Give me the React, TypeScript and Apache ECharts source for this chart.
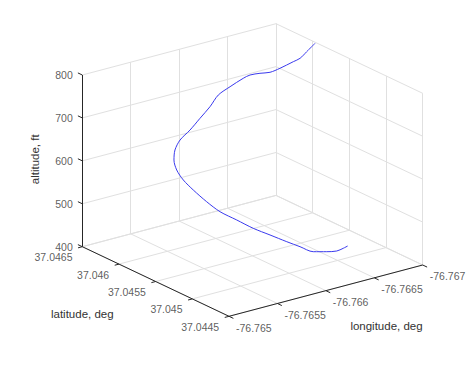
import { useEffect, useRef } from "react";
import * as echarts from "echarts";

// ---- data (flight track) ----
const latitude = [
  37.045177, 37.045117, 37.045059, 37.045016, 37.044963, 37.045041, 37.045079, 37.045166,
  37.045213, 37.045328, 37.045404, 37.045535, 37.045697, 37.045812, 37.04591, 37.046028,
  37.046129, 37.046209, 37.046226, 37.046274, 37.046321, 37.046377, 37.046354, 37.046326,
  37.046314, 37.046218, 37.046108, 37.046054, 37.045992, 37.045966, 37.045976, 37.045948,
];
const longitude = [
  -76.766738, -76.766647, -76.766536, -76.7664, -76.766221, -76.766143, -76.766035, -76.765928,
  -76.76579, -76.765707, -76.765592, -76.765553, -76.765538, -76.765522, -76.765528, -76.765589,
  -76.765676, -76.765789, -76.765905, -76.766044, -76.766183, -76.766311, -76.766415, -76.76653,
  -76.766591, -76.766621, -76.766641, -76.766703, -76.766794, -76.766844, -76.76692, -76.766985,
];
const altitude = [
  405, 410, 415, 425, 440, 450, 465, 480, 500, 515, 535, 550, 565, 580, 595, 605,
  615, 625, 640, 655, 670, 685, 700, 715, 720, 730, 740, 750, 765, 772, 782, 800,
];

// ---- ticks ----
const latTicks = [37.0445, 37.045, 37.0455, 37.046, 37.0465];
const latTickLabels = ["37.0445", "37.045", "37.0455", "37.046", "37.0465"];
const lonTicks = [-76.767, -76.7665, -76.766, -76.7655, -76.765];
const lonTickLabels = ["-76.767", "-76.7665", "-76.766", "-76.7655", "-76.765"];
const altTicks = [400, 500, 600, 700, 800];
const altTickLabels = ["400", "500", "600", "700", "800"];

const LAT_MIN = 37.0445, LAT_MAX = 37.0465;
const LON_MIN = -76.767, LON_MAX = -76.765;
const ALT_MIN = 400, ALT_MAX = 800;

// ---- view layout (3D box projection, pixels) ----
const ORIGIN = [82.3, 246.7];
const LAT_VEC = [146.7, 69.6];
const LON_VEC = [193.7, -51.3];
const ALT_VEC = [0, -171.7];

function project(lat: number, lon: number, alt: number): number[] {
  const fa = (LAT_MAX - lat) / (LAT_MAX - LAT_MIN);
  const fu = (LON_MAX - lon) / (LON_MAX - LON_MIN);
  const fh = (alt - ALT_MIN) / (ALT_MAX - ALT_MIN);
  return [
    ORIGIN[0] + fa * LAT_VEC[0] + fu * LON_VEC[0] + fh * ALT_VEC[0],
    ORIGIN[1] + fa * LAT_VEC[1] + fu * LON_VEC[1] + fh * ALT_VEC[1],
  ];
}

const FONT = "'Liberation Sans', Arial, Helvetica, sans-serif";
const TEXT = "#333333";
const AXIS = "#262626";
const GRID = "#e0e0e0";

export default function App() {
  const ref = useRef<HTMLDivElement>(null);
  useEffect(() => {
    if (!ref.current) return;
    const chart = echarts.init(ref.current, undefined, { renderer: "svg" });

    const seg = (a: number[], b: number[]) => ({ coords: [a, b] });
    const gridSegs: any[] = [];
    // floor
    latTicks.forEach((la) => gridSegs.push(seg(project(la, LON_MAX, ALT_MIN), project(la, LON_MIN, ALT_MIN))));
    lonTicks.forEach((lo) => gridSegs.push(seg(project(LAT_MIN, lo, ALT_MIN), project(LAT_MAX, lo, ALT_MIN))));
    // left wall (lat = max)
    lonTicks.forEach((lo) => gridSegs.push(seg(project(LAT_MAX, lo, ALT_MIN), project(LAT_MAX, lo, ALT_MAX))));
    altTicks.forEach((al) => gridSegs.push(seg(project(LAT_MAX, LON_MAX, al), project(LAT_MAX, LON_MIN, al))));
    // right wall (lon = min)
    latTicks.forEach((la) => gridSegs.push(seg(project(la, LON_MIN, ALT_MIN), project(la, LON_MIN, ALT_MAX))));
    altTicks.forEach((al) => gridSegs.push(seg(project(LAT_MIN, LON_MIN, al), project(LAT_MAX, LON_MIN, al))));

    const axisSegs: any[] = [
      seg(project(LAT_MAX, LON_MAX, ALT_MIN), project(LAT_MAX, LON_MAX, ALT_MAX)),
      seg(project(LAT_MAX, LON_MAX, ALT_MIN), project(LAT_MIN, LON_MAX, ALT_MIN)),
      seg(project(LAT_MIN, LON_MAX, ALT_MIN), project(LAT_MIN, LON_MIN, ALT_MIN)),
    ];
    const dLon = (LON_MAX - LON_MIN) * 0.022;
    const dLat = (LAT_MAX - LAT_MIN) * 0.03;
    altTicks.forEach((al) => axisSegs.push(seg(project(LAT_MAX, LON_MAX, al), project(LAT_MAX + dLat, LON_MAX, al))));
    latTicks.forEach((la) => axisSegs.push(seg(project(la, LON_MAX, ALT_MIN), project(la, LON_MAX + dLon, ALT_MIN))));
    lonTicks.forEach((lo) => axisSegs.push(seg(project(LAT_MIN, lo, ALT_MIN), project(LAT_MIN - dLat, lo, ALT_MIN))));

    const track = latitude.map((la, i) => project(la, longitude[i], altitude[i]));

    const labelBase = { show: true, color: TEXT, fontSize: 10.5, fontFamily: FONT, position: "inside", verticalAlign: "middle" };

    chart.setOption({
      animation: false,
      backgroundColor: "#ffffff",
      grid: { left: 0, right: 0, top: 0, bottom: 0 },
      xAxis: { type: "value", min: 0, max: 474, show: false },
      yAxis: { type: "value", min: 0, max: 366, inverse: true, show: false },
      series: [
        { type: "lines", coordinateSystem: "cartesian2d", silent: true, data: gridSegs,
          lineStyle: { color: GRID, width: 1, opacity: 1 } },
        { type: "lines", coordinateSystem: "cartesian2d", silent: true, data: axisSegs,
          lineStyle: { color: AXIS, width: 1, opacity: 1 } },
        { type: "line", data: track, smooth: 0.3, showSymbol: false, symbol: "none",
          lineStyle: { color: "#3a3aee", width: 1 } },
        { type: "scatter", symbolSize: 0, silent: true,
          data: altTicks.map((al, i) => ({ value: project(LAT_MAX, LON_MAX, al), name: altTickLabels[i] })),
          label: { ...labelBase, align: "right", offset: [-9.5, 0], formatter: (p: any) => p.name } },
        { type: "scatter", symbolSize: 0, silent: true,
          data: latTicks.map((la, i) => ({ value: project(la, LON_MAX, ALT_MIN), name: latTickLabels[i] })),
          label: { ...labelBase, align: "right", offset: [-9.8, 10.5], formatter: (p: any) => p.name } },
        { type: "scatter", symbolSize: 0, silent: true,
          data: lonTicks.map((lo, i) => ({ value: project(LAT_MIN, lo, ALT_MIN), name: lonTickLabels[i] })),
          label: { ...labelBase, align: "left", offset: [7, 11.2], formatter: (p: any) => p.name } },
      ],
      graphic: [
        { type: "text", x: 35, y: 159.3, rotation: Math.PI / 2,
          style: { text: "altitude, ft", fill: TEXT, font: `11.5px ${FONT}`, align: "center", verticalAlign: "middle" } },
        { type: "text", x: 82.3, y: 314,
          style: { text: "latitude, deg", fill: TEXT, font: `11.5px ${FONT}`, align: "center", verticalAlign: "middle" } },
        { type: "text", x: 386.5, y: 325.5,
          style: { text: "longitude, deg", fill: TEXT, font: `11.5px ${FONT}`, align: "center", verticalAlign: "middle" } },
      ],
    });
    return () => chart.dispose();
  }, []);
  return <div ref={ref} style={{ position: "fixed", left: 0, top: 0, width: 474, height: 366 }} />;
}
